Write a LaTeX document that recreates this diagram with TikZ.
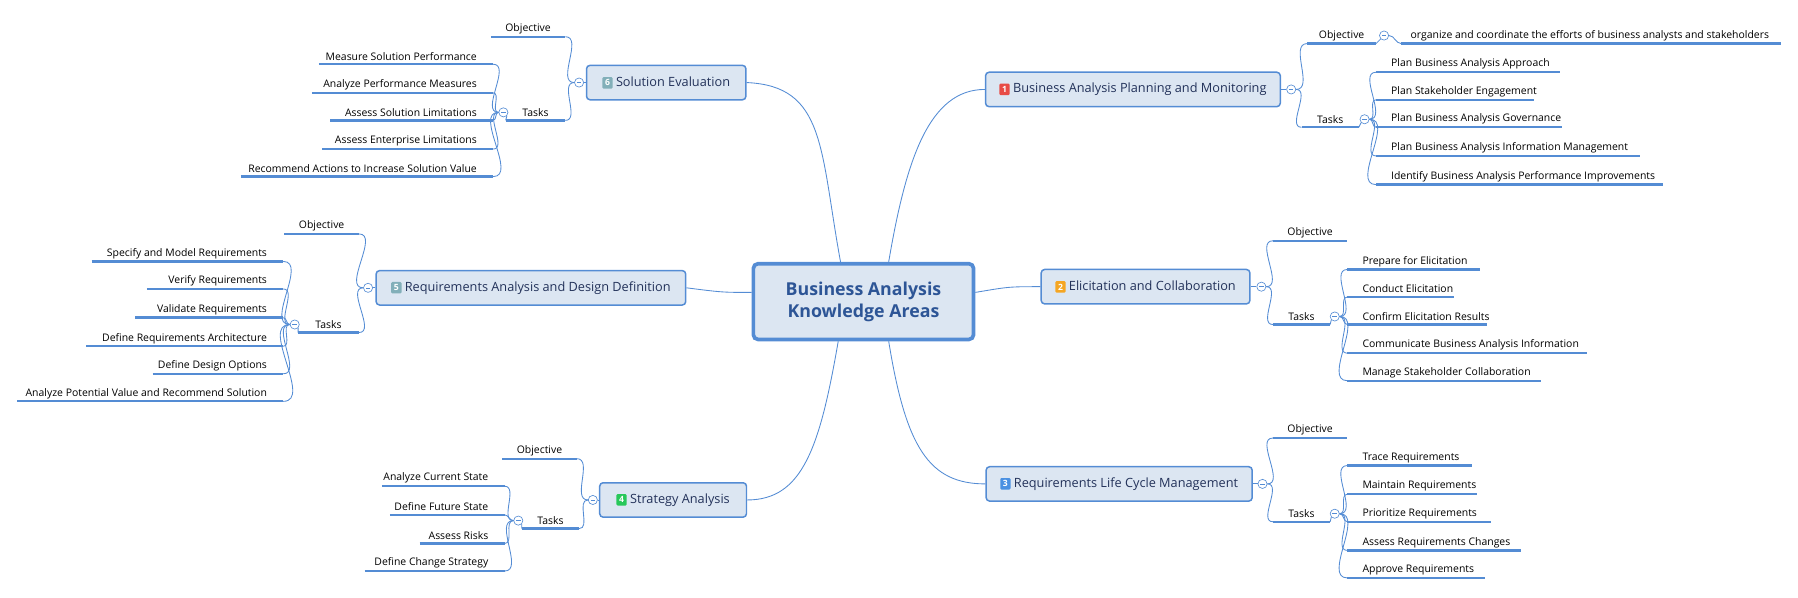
\documentclass[tikz,border=0pt]{standalone}
\usepackage{fontspec}
\setmainfont{Open Sans}
\begin{document}
\begin{tikzpicture}[x=1pt,y=-1pt,
  ln/.style={draw=lineblue,line width=0.75pt},
  ul/.style={draw=lineblue,line width=2pt},
  leaf/.style={font=\fontsize{9.1}{10}\selectfont,inner sep=0pt,text=black},
  branch/.style={draw=lineblue,line width=1.3pt,fill=nodefill,rounded corners=3pt,inner xsep=6pt,font=\fontsize{11.1}{12}\selectfont,text=branchtext,minimum height=30pt},
  tog/.style={circle,draw=lineblue,fill=white,line width=0.55pt,inner sep=0pt,minimum size=8pt,path picture={\draw[lineblue,line width=0.55pt] ([xshift=-2pt]path picture bounding box.center)--([xshift=2pt]path picture bounding box.center);}},
  badge/.style={fill=#1,rounded corners=1pt,text=white,font=\fontsize{7.5}{8}\selectfont\bfseries,inner sep=0pt,minimum width=9pt,minimum height=10pt}]
\definecolor{lineblue}{RGB}{84,140,212}
\definecolor{nodefill}{RGB}{220,230,242}
\definecolor{branchtext}{RGB}{35,50,90}
\definecolor{centertext}{RGB}{45,85,150}
\definecolor{bred}{RGB}{232,76,70}
\definecolor{borange}{RGB}{245,166,35}
\definecolor{bblue}{RGB}{74,144,226}
\definecolor{bgreen}{RGB}{40,200,90}
\definecolor{bteal}{RGB}{130,175,185}
\useasboundingbox (0,0) rectangle (1568,521.5);
\newcommand{\rleaf}[5]{\coordinate (#1) at (#2,#4+7); \draw[ul] (#1) -- (#3,#4+7); \node[leaf,anchor=west] (#1t) at (#2+13,#4) {#5};}
\newcommand{\lleaf}[5]{\coordinate (#1) at (#3,#4+7); \draw[ul] (#2,#4+7) -- (#1); \node[leaf,anchor=east] (#1t) at (#3-14,#4) {#5};}
\newcommand{\cleaf}[5]{\coordinate (#1) at (#2,#4+7); \coordinate (#1e) at (#3,#4+7); \draw[ul] (#1) -- (#1e); \node[leaf] (#1t) at ({(#2+#3)/2},#4) {#5};}
\newcommand{\rb}[2]{\draw[ln] (#1.east) to[out=0,in=180] (#2);}
\newcommand{\lb}[2]{\draw[ln] (#1.west) to[out=180,in=0] (#2);}

% center
\node[draw=lineblue,line width=3.2pt,fill=nodefill,rounded corners=4pt,minimum width=192pt,minimum height=66pt,align=center,font=\fontsize{15.5}{19}\selectfont\bfseries,text=centertext] (C) at (753,263) {Business Analysis\\Knowledge Areas};

% branches
\node[branch,minimum width=257pt] (B1) at (988,78) {\tikz[baseline=-3pt]\node[badge=bred]{1}; Business Analysis Planning and Monitoring};
\node[branch,minimum width=182pt] (B2) at (999,250) {\tikz[baseline=-3pt]\node[badge=borange]{2}; Elicitation and Collaboration};
\node[branch,minimum width=232pt] (B3) at (976,422) {\tikz[baseline=-3pt]\node[badge=bblue]{3}; Requirements Life Cycle Management};
\node[branch,minimum width=128pt] (B4) at (587,436) {\tikz[baseline=-3pt]\node[badge=bgreen]{4}; Strategy Analysis};
\node[branch,minimum width=270pt] (B5) at (463,251) {\tikz[baseline=-3pt]\node[badge=bteal]{5}; Requirements Analysis and Design Definition};
\node[branch,minimum width=139pt] (B6) at (581,72) {\tikz[baseline=-3pt]\node[badge=bteal]{6}; Solution Evaluation};

% center connectors
\draw[ln] (C.north) ++(-20,0) .. controls (715,130) and (720,75) .. (B6.east);
\draw[ln] (C.north) ++(22,0) .. controls (790,140) and (810,78) .. (B1.west);
\draw[ln] (C.east) ++(0,-8) .. controls (880,250) .. (B2.west);
\draw[ln] (C.south) ++(22,0) .. controls (790,390) and (810,422) .. (B3.west);
\draw[ln] (C.south) ++(-22,0) .. controls (715,390) and (700,436) .. (B4.east);
\draw[ln] (C.west) ++(0,-8) .. controls (630,255) .. (B5.east);

% ---- B1
\node[tog] (t1) at (1126,78) {};
\draw[ln] (B1.east) -- (t1);
\cleaf{o1}{1140}{1200}{31}{Objective}
\cleaf{k1}{1135}{1185}{104}{Tasks}
\rb{t1}{o1}\rb{t1}{k1}
\node[tog] (t1o) at (1207,31) {};
\draw[ln] (o1e) -- (t1o.south west);
\coordinate (o1x) at (1222,38); \draw[ul] (o1x) -- (1553,38);
\node[leaf,anchor=west] at (1230,31) {organize and coordinate the efforts of business analysts and stakeholders};
\draw[ln] (t1o.east) to[out=0,in=180] (o1x);
\node[tog] (t1k) at (1190,104) {};
\draw[ln] (k1e) -- (t1k.south west);
\rleaf{a1}{1200}{1360}{56}{Plan Business Analysis Approach}
\rleaf{a2}{1200}{1338}{80}{Plan Stakeholder Engagement}
\rleaf{a3}{1200}{1362}{104}{Plan Business Analysis Governance}
\rleaf{a4}{1200}{1430}{129}{Plan Business Analysis Information Management}
\rleaf{a5}{1200}{1450}{154}{Identify Business Analysis Performance Improvements}
\foreach \n in {a1,a2,a3,a4,a5} {\rb{t1k}{\n}}

% ---- B2
\node[tog] (t2) at (1100,250) {};
\draw[ln] (B2.east) -- (t2);
\cleaf{o2}{1110}{1175}{203}{Objective}
\cleaf{k2}{1110}{1160}{276}{Tasks}
\rb{t2}{o2}\rb{t2}{k2}
\node[tog] (t2k) at (1164,276) {};
\draw[ln] (k2e) -- (t2k.south west);
\rleaf{b1}{1175}{1291}{228}{Prepare for Elicitation}
\rleaf{b2}{1175}{1268}{252}{Conduct Elicitation}
\rleaf{b3}{1175}{1297}{276}{Confirm Elicitation Results}
\rleaf{b4}{1175}{1384}{301}{Communicate Business Analysis Information}
\rleaf{b5}{1175}{1344}{325}{Manage Stakeholder Collaboration}
\foreach \n in {b1,b2,b3,b4,b5} {\rb{t2k}{\n}}

% ---- B3
\node[tog] (t3) at (1101,422) {};
\draw[ln] (B3.east) -- (t3);
\cleaf{o3}{1110}{1175}{375}{Objective}
\cleaf{k3}{1110}{1160}{448}{Tasks}
\rb{t3}{o3}\rb{t3}{k3}
\node[tog] (t3k) at (1164,448) {};
\draw[ln] (k3e) -- (t3k.south west);
\rleaf{c1}{1175}{1284}{399}{Trace Requirements}
\rleaf{c2}{1175}{1288}{424}{Maintain Requirements}
\rleaf{c3}{1175}{1300}{448}{Prioritize Requirements}
\rleaf{c4}{1175}{1326}{473}{Assess Requirements Changes}
\rleaf{c5}{1175}{1295}{497}{Approve Requirements}
\foreach \n in {c1,c2,c3,c4,c5} {\rb{t3k}{\n}}

% ---- B4
\node[tog] (t4) at (517,436) {};
\draw[ln] (B4.west) -- (t4);
\cleaf{o4e}{438}{503}{393}{Objective}
\cleaf{k4e}{455}{505}{454}{Tasks}
\lb{t4}{o4ee}\lb{t4}{k4ee}
\node[tog] (t4k) at (452,454) {};
\draw[ln] (k4e) -- (t4k.south east);
\lleaf{d1}{333}{440}{417}{Analyze Current State}
\lleaf{d2}{340}{440}{442}{Define Future State}
\lleaf{d3}{366}{440}{467}{Assess Risks}
\lleaf{d4}{318}{440}{491}{Define Change Strategy}
\foreach \n in {d1,d2,d3,d4} {\lb{t4k}{\n}}

% ---- B5
\node[tog] (t5) at (321,251) {};
\draw[ln] (B5.west) -- (t5);
\cleaf{o5e}{248}{313}{197}{Objective}
\cleaf{k5e}{260}{313}{283}{Tasks}
\lb{t5}{o5ee}\lb{t5}{k5ee}
\node[tog] (t5k) at (257,283) {};
\draw[ln] (k5e) -- (t5k.south east);
\lleaf{e1}{80}{247}{221}{Specify and Model Requirements}
\lleaf{e2}{128}{247}{245}{Verify Requirements}
\lleaf{e3}{118}{247}{270}{Validate Requirements}
\lleaf{e4}{75}{247}{295}{Define Requirements Architecture}
\lleaf{e5}{133}{247}{319}{Define Design Options}
\lleaf{e6}{15}{247}{343}{Analyze Potential Value and Recommend Solution}
\foreach \n in {e1,e2,e3,e4,e5,e6} {\lb{t5k}{\n}}

% ---- B6
\node[tog] (t6) at (505,72) {};
\draw[ln] (B6.west) -- (t6);
\cleaf{o6e}{428}{493}{25}{Objective}
\cleaf{k6e}{441}{493}{98}{Tasks}
\lb{t6}{o6ee}\lb{t6}{k6ee}
\node[tog] (t6k) at (439,98) {};
\draw[ln] (k6e) -- (t6k.south east);
\lleaf{f1}{278}{430}{49}{Measure Solution Performance}
\lleaf{f2}{272}{430}{74}{Analyze Performance Measures}
\lleaf{f3}{288}{430}{98}{Assess Solution Limitations}
\lleaf{f4}{281}{430}{123}{Assess Enterprise Limitations}
\lleaf{f5}{210}{430}{147}{Recommend Actions to Increase Solution Value}
\foreach \n in {f1,f2,f3,f4,f5} {\lb{t6k}{\n}}
\end{tikzpicture}
\end{document}
